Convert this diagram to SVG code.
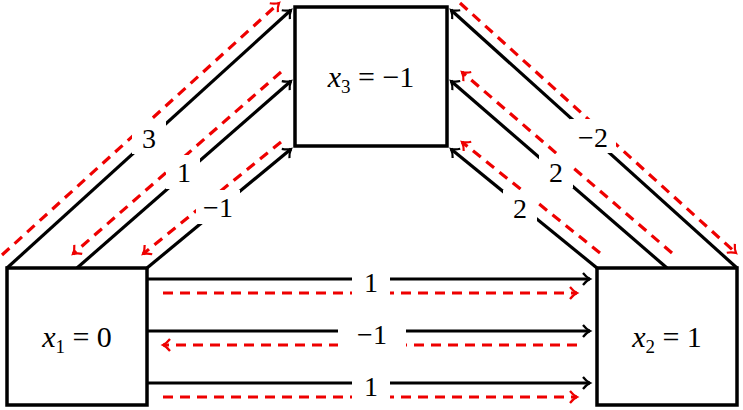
<svg xmlns="http://www.w3.org/2000/svg" width="743" height="410" viewBox="0 0 743 410">
<defs>
<marker id="ab" markerWidth="12" markerHeight="14" refX="9" refY="7" orient="auto" markerUnits="userSpaceOnUse"><path d="M2,1 Q5,5 9,7 Q5,9 2,13" fill="none" stroke="#000" stroke-width="2.2"/></marker>
<marker id="ar" markerWidth="12" markerHeight="14" refX="9" refY="7" orient="auto" markerUnits="userSpaceOnUse"><path d="M2,1 Q5,5 9,7 Q5,9 2,13" fill="none" stroke="#e00" stroke-width="2.2"/></marker>
</defs>
<style>
.b{stroke:#000;stroke-width:3.2;fill:none;marker-end:url(#ab)}
.r{stroke:#e00;stroke-width:3.2;fill:none;stroke-dasharray:10 7;marker-end:url(#ar)}
.box{fill:#fff;stroke:#000;stroke-width:3.5}
.bg{fill:#fff}
</style>
<g id="connectors">
<line class="b" x1="7" y1="268" x2="291" y2="10"/>
<line class="b" x1="77" y1="268" x2="291" y2="81"/>
<line class="b" x1="147" y1="268" x2="291" y2="149"/>
<line class="r" x1="2" y1="255" x2="279" y2="3"/>
<line class="r" x1="281" y1="72" x2="73" y2="254"/>
<line class="r" x1="281" y1="142" x2="143" y2="254"/>
<line class="b" x1="737" y1="268" x2="451" y2="10"/>
<line class="b" x1="667" y1="268" x2="451" y2="81"/>
<line class="b" x1="597" y1="268" x2="451" y2="149"/>
<line class="r" x1="460" y1="3" x2="736" y2="253"/>
<line class="r" x1="672" y1="253" x2="462" y2="72"/>
<line class="r" x1="600" y1="253" x2="462" y2="142"/>
<line class="b" x1="147" y1="279" x2="590" y2="279"/>
<line class="r" x1="163" y1="293" x2="577" y2="293"/>
<line class="b" x1="147" y1="331" x2="590" y2="331"/>
<line class="r" x1="577" y1="345" x2="163" y2="345"/>
<line class="b" x1="147" y1="383" x2="590" y2="383"/>
<line class="r" x1="163" y1="397" x2="577" y2="397"/>
<rect class="bg" x="132" y="120" width="34" height="34"/>
<rect class="bg" x="166" y="155" width="34" height="34"/>
<rect class="bg" x="196" y="190" width="44" height="34"/>
<rect class="bg" x="570" y="119" width="46" height="34"/>
<rect class="bg" x="539" y="154" width="34" height="34"/>
<rect class="bg" x="503" y="190" width="34" height="34"/>
<rect class="bg" x="352" y="268" width="38" height="30"/>
<rect class="bg" x="338" y="320" width="68" height="30"/>
<rect class="bg" x="352" y="372" width="38" height="30"/>
<g font-family="Liberation Serif, DejaVu Serif, serif" font-size="28" text-anchor="middle">
<text x="149" y="148">3</text>
<text x="184" y="182">1</text>
<text x="218" y="217">−1</text>
<text x="593" y="147">−2</text>
<text x="556" y="182">2</text>
<text x="520" y="218">2</text>
<text x="371" y="292">1</text>
<text x="372" y="344">−1</text>
<text x="371" y="396">1</text>
</g>
</g>
<g id="x3"><rect class="box" x="295" y="7" width="152" height="139"/><text font-family="Liberation Serif, DejaVu Serif, serif" font-size="30" text-anchor="middle" x="371" y="87"><tspan font-style="italic">x</tspan><tspan font-size="19" dy="6">3</tspan><tspan dy="-6"> = −1</tspan></text></g>
<g id="x1"><rect class="box" x="7" y="268" width="140" height="137"/><text font-family="Liberation Serif, DejaVu Serif, serif" font-size="30" text-anchor="middle" x="77" y="347"><tspan font-style="italic">x</tspan><tspan font-size="19" dy="6">1</tspan><tspan dy="-6"> = 0</tspan></text></g>
<g id="x2"><rect class="box" x="597" y="268" width="140" height="137"/><text font-family="Liberation Serif, DejaVu Serif, serif" font-size="30" text-anchor="middle" x="667" y="347"><tspan font-style="italic">x</tspan><tspan font-size="19" dy="6">2</tspan><tspan dy="-6"> = 1</tspan></text></g>
</svg>
